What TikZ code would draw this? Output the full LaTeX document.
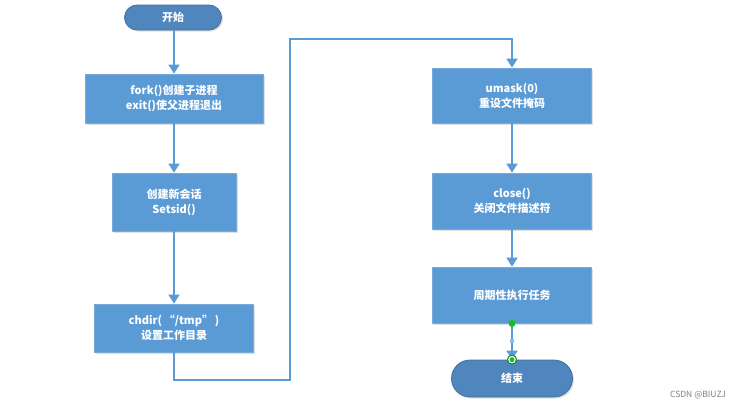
\documentclass[tikz,border=0pt]{standalone}
\usepackage{fontspec}
\setmainfont{Noto Sans CJK SC}
\usetikzlibrary{arrows.meta,shapes.misc,shadows}
\definecolor{boxfill}{RGB}{91,155,213}
\definecolor{boxedge}{RGB}{120,170,220}
\definecolor{termfill}{RGB}{79,134,190}
\definecolor{termedge}{RGB}{65,113,156}
\definecolor{linec}{RGB}{91,155,213}
\definecolor{dotgreen}{RGB}{20,190,40}
\begin{document}
\begin{tikzpicture}[x=1pt,y=-1pt,
  stepbox/.style={draw=boxedge,line width=0.8pt,fill=boxfill,text=white,align=center,
    font=\fontsize{11}{15}\selectfont\bfseries, inner sep=0pt,
    drop shadow={shadow xshift=1.5pt,shadow yshift=-1.5pt,opacity=0.25,fill=gray}},
  term/.style={rounded rectangle,draw=termedge,line width=0.8pt,fill=termfill,text=white,
    font=\fontsize{11}{14}\selectfont\bfseries, inner sep=0pt,
    drop shadow={shadow xshift=1.5pt,shadow yshift=-1.5pt,opacity=0.25,fill=gray}},
  conn/.style={draw=linec,line width=1.8pt,-{Triangle[width=11pt,length=9pt]}}]
\useasboundingbox (0,0) rectangle (750,410);
\fill[white] (0,0) rectangle (750,410);
% nodes
\node[term,minimum width=97pt,minimum height=25pt] (start) at (173,17.5) {开始};
\node[stepbox,minimum width=178pt,minimum height=49pt] (b1) at (174,98.5) {fork()创建子进程\\exit()使父进程退出};
\node[stepbox,minimum width=124pt,minimum height=58pt] (b2) at (174,202) {创建新会话\\Setsid()};
\node[stepbox,minimum width=159pt,minimum height=48pt] (b3) at (174,328) {chdir(\,“/tmp”\,)\\设置工作目录};
\node[stepbox,minimum width=159pt,minimum height=55pt] (b4) at (512,95.5) {umask(0)\\重设文件掩码};
\node[stepbox,minimum width=159pt,minimum height=56pt] (b5) at (512,201) {close()\\关闭文件描述符};
\node[stepbox,minimum width=159pt,minimum height=56pt] (b6) at (512,295) {周期性执行任务};
\node[term,minimum width=121pt,minimum height=37pt] (end) at (512,378.5) {结束};
\coordinate (c2) at (290,380);
\coordinate (c3) at (290,39);
\coordinate (c4) at (512,39);
% connectors
\draw[conn] (start.south -| b1.north) -- (b1.north);
\draw[conn] (b1.south) -- (b2.north);
\draw[conn] (b2.south) -- (b3.north);
\draw[conn] (b3.south) |- (c2) -- (c3) -- (c4) -- (b4.north);
\draw[conn] (b4.south) -- (b5.north);
\draw[conn] (b5.south) -- (b6.north);
\draw[conn] (b6.south) -- (end.north);
% edit handles on the last connector
\fill[dotgreen] (b6.south) circle (3.5pt);
\fill[linec!70] (512,341) circle (2.2pt);
\draw[dotgreen!70!black,fill=white,line width=1pt] (end.north) circle (4.5pt);
\fill[dotgreen] (end.north) circle (2.5pt);
\node[text=gray,font=\fontsize{8.5}{10}\selectfont] (wm) at (698,395) {CSDN @BIUZJ};
\end{tikzpicture}
\end{document}
